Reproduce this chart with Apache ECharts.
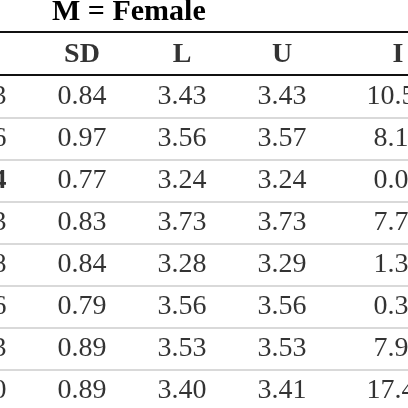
<!DOCTYPE html>
<html><head><meta charset="utf-8">
<script src="https://cdn.jsdelivr.net/npm/echarts@6/dist/echarts.min.js"></script>
<style>html,body{margin:0;padding:0;background:#fff}#c{width:408px;height:408px}</style>
</head><body><div id="c"></div>
<script>
const title = 'M = Female';
const columns = ['M', 'SD', 'L', 'U', 'I'];
const meanVals = ['3.43','3.56','3.24','3.73','3.28','3.56','3.53','3.40'];
const sdVals = ['0.84','0.97','0.77','0.83','0.84','0.79','0.89','0.89'];
const lVals = ['3.43','3.56','3.24','3.73','3.28','3.56','3.53','3.40'];
const uVals = ['3.43','3.57','3.24','3.73','3.29','3.56','3.53','3.41'];
const iVals = ['10.52','8.14','0.02','7.71','1.35','0.31','7.93','17.40'];
const boldCells = [[0, 2]]; // [column, row]
const font = '"Liberation Serif", "DejaVu Serif", serif';
const cols = [meanVals, sdVals, lVals, uVals, iVals];
const data = [];
columns.forEach((c, ci) => {
  data.push({value: [ci, 0], label: {formatter: c, fontWeight: 'bold'}});
  cols[ci].forEach((v, ri) => {
    const b = boldCells.some(p => p[0] === ci && p[1] === ri);
    data.push({value: [ci, ri + 1], label: {formatter: v, fontWeight: b ? 'bold' : 'normal'}});
  });
});
data.forEach(d => { if (d.value[0] === 4) d.label.offset = [16, 0]; });
const seps = meanVals.slice(0, 7).map((v, i) => ({yAxis: i + 1.5}));
const chart = echarts.init(document.getElementById('c'));
chart.setOption({
  animation: false,
  grid: {left: 0, right: 0, top: 0, bottom: 0},
  xAxis: {type: 'value', min: 0.18, max: 4.26, show: false},
  yAxis: {type: 'value', min: -1.31, max: 8.405, inverse: true, show: false},
  series: [{type: 'scatter', symbolSize: 0, clip: false, data: data,
    label: {show: true, position: 'inside', color: '#000', fontSize: 28, fontFamily: font},
    markLine: {symbol: 'none', silent: true, label: {show: false},
      lineStyle: {color: '#cccccc', width: 1.5, type: 'solid'}, data: seps}}],
  graphic: [
    {type: 'text', left: 52, top: -3, style: {text: title, font: 'bold 30px ' + font, fill: '#000'}},
    {type: 'rect', shape: {x: 0, y: 31, width: 408, height: 2}, style: {fill: '#111'}, z: 10},
    {type: 'rect', shape: {x: 0, y: 74, width: 408, height: 2}, style: {fill: '#111'}, z: 10}
  ]
});
</script></body></html>
